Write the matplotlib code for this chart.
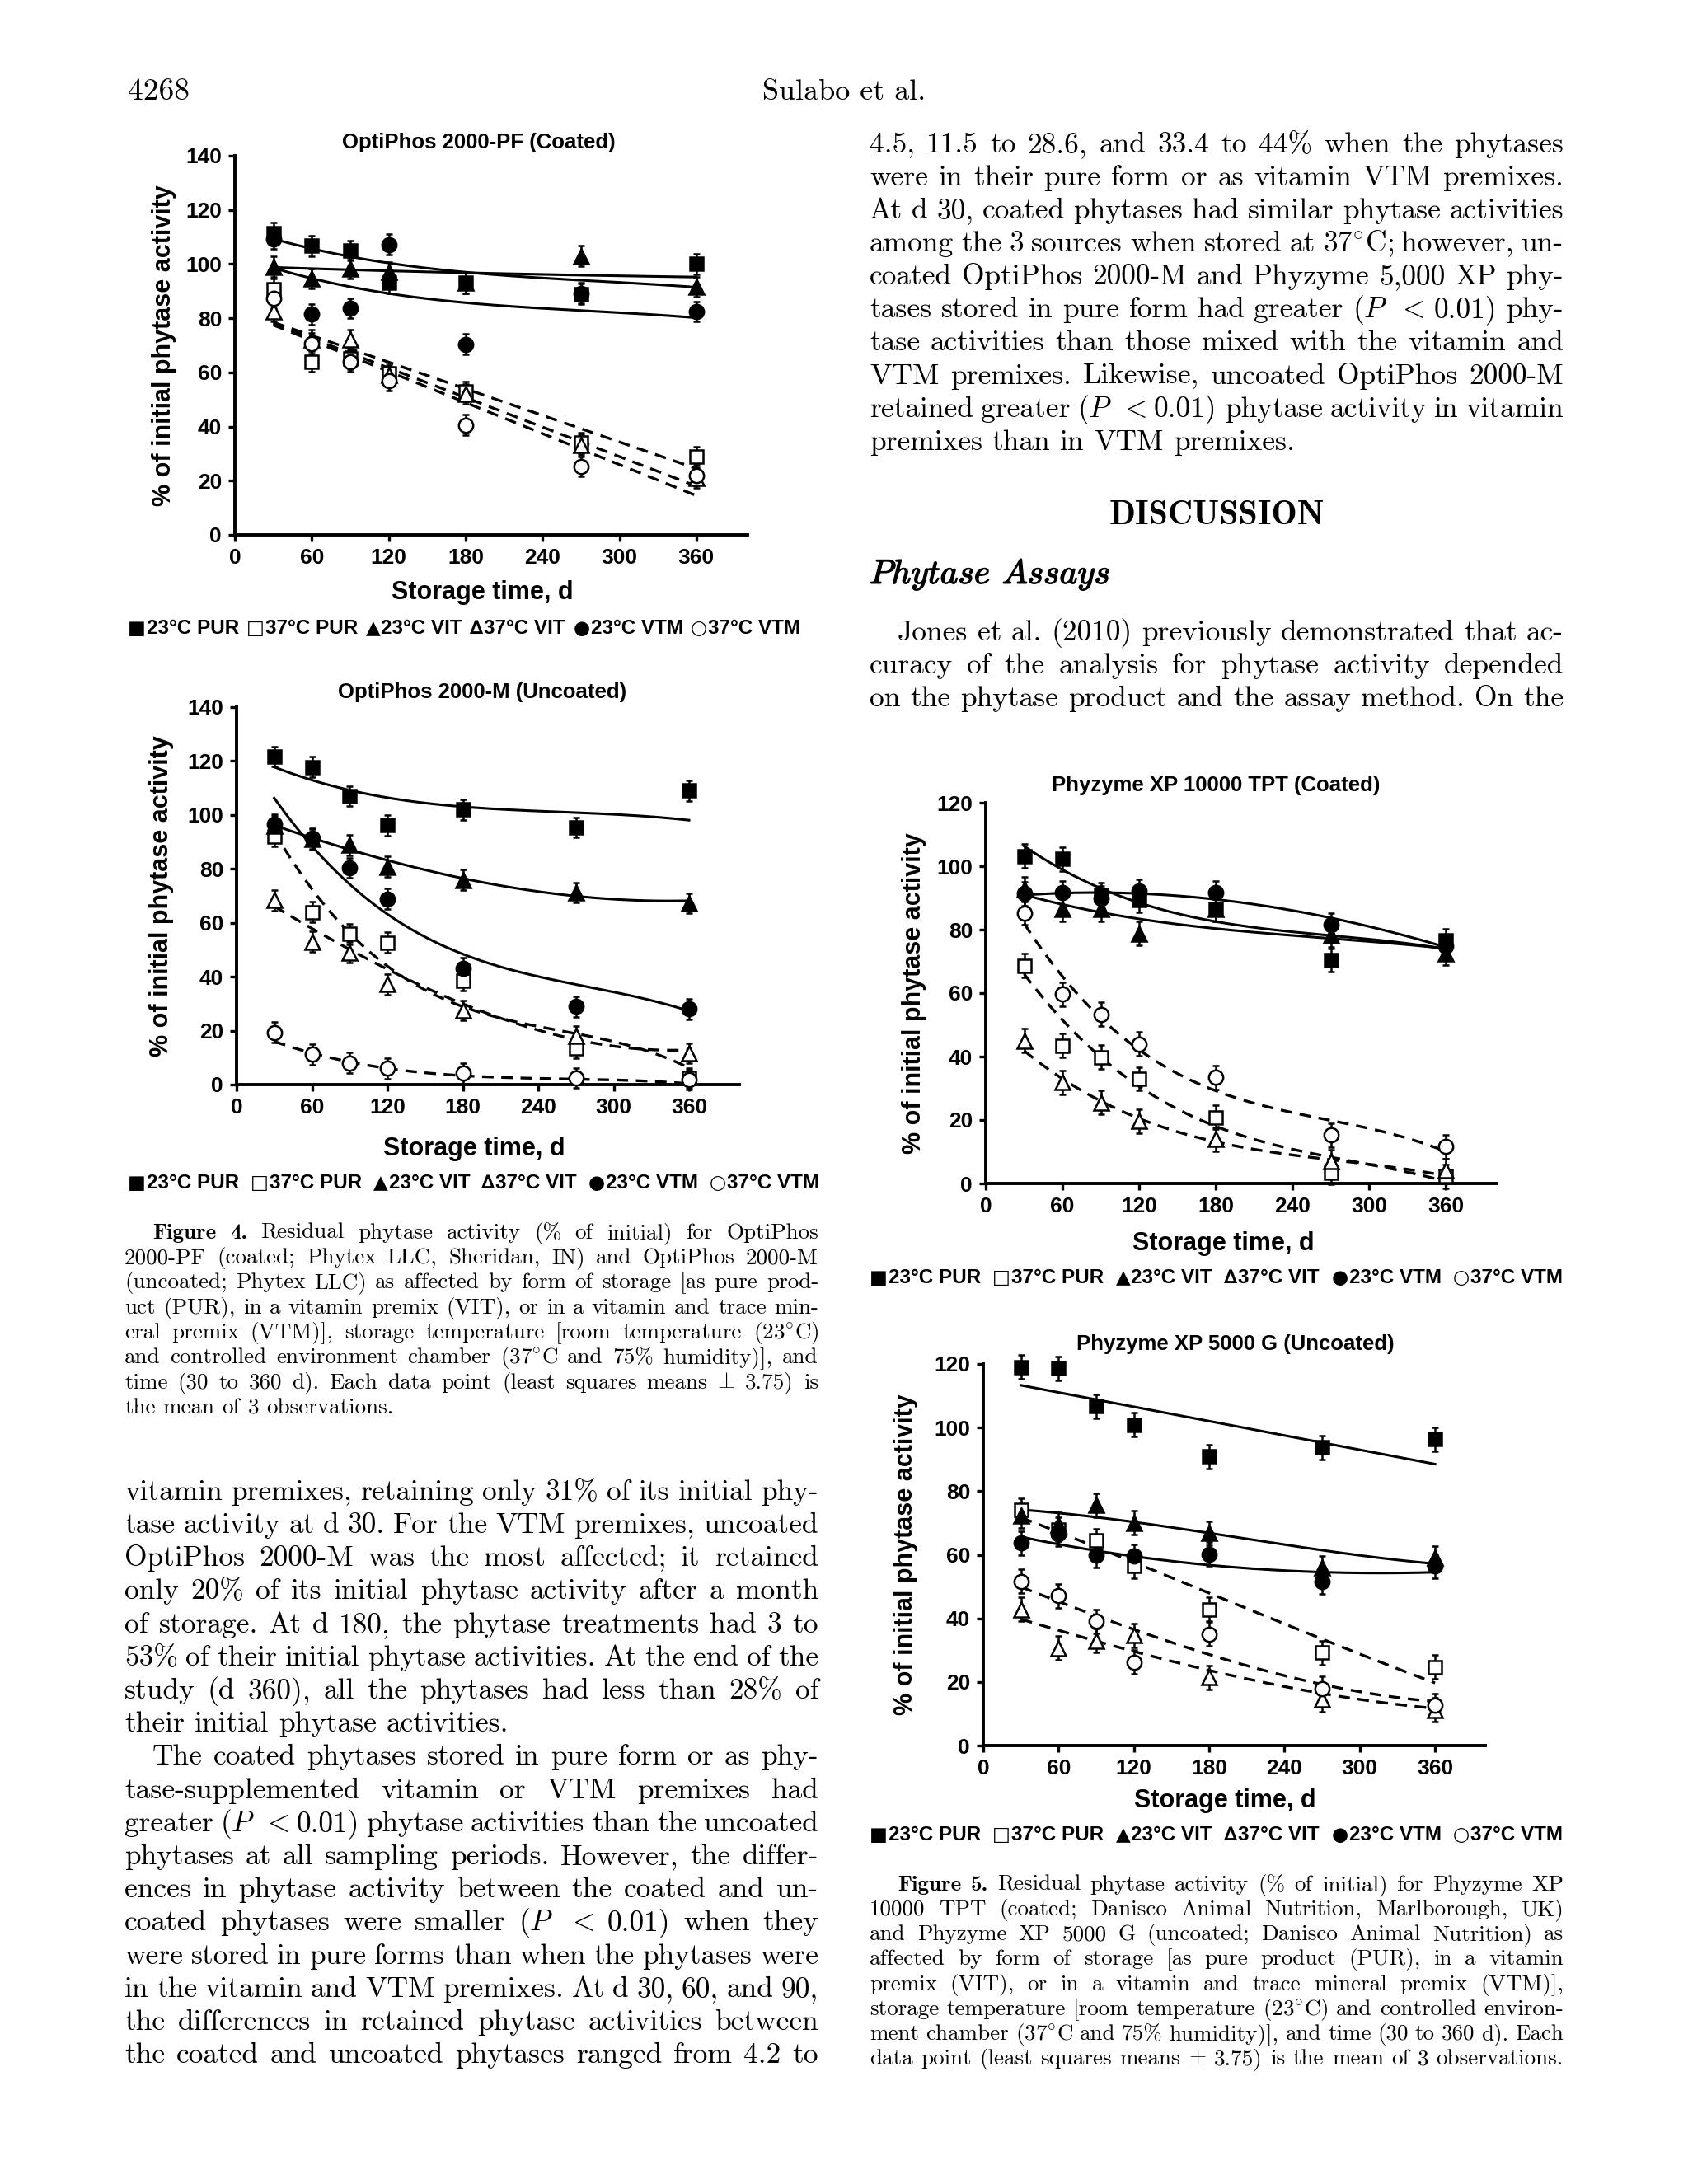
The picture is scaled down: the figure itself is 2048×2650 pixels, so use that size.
import numpy as np
import matplotlib
matplotlib.use('Agg')
import matplotlib.pyplot as plt
import matplotlib.patheffects as pe

plt.rcParams['font.family'] = ['Liberation Sans', 'DejaVu Sans']
plt.rcParams['mathtext.fontset'] = 'cm'

# ---------------- data ----------------
days = [30, 60, 90, 120, 180, 270, 360]
lin_days = [30, 360]
sem = 3.75
legend_symbols = [u"\u25A0", u"\u25A1", u"\u25B2", u"\u2206", u"\u25CF", u"\u25CB"]
legend_labels = [u"23\u00B0C PUR", u"37\u00B0C PUR", u"23\u00B0C VIT", u"37\u00B0C VIT",
                 u"23\u00B0C VTM", u"37\u00B0C VTM"]

# OptiPhos 2000-PF (Coated)
pf_pur23 = [111.5, 106.7, 105.0, 93.0, 93.0, 89.0, 100.0]
pf_pur37 = [90.8, 64.0, 65.0, 59.8, 53.0, 34.0, 28.8]
pf_vit23 = [99.0, 94.6, 98.4, 97.0, 93.0, 103.0, 91.6]
pf_vit37 = [82.5, 72.0, 72.0, 59.0, 52.0, 33.3, 21.0]
pf_vtm23 = [109.4, 81.5, 83.7, 107.2, 70.4, 89.3, 82.5]
pf_vtm37 = [87.5, 70.7, 64.0, 57.0, 40.6, 25.3, 22.0]
# fitted curves, read at the sampling days
pf_fit_pur23 = [109.5, 105.5, 102.5, 100.5, 97.3, 93.8, 91.5]
pf_fit_vit23 = [98.8, 98.3, 97.9, 97.5, 96.8, 95.9, 95.2]
pf_fit_vtm23 = [98.8, 94.4, 91.5, 89.3, 85.9, 82.7, 80.2]
pf_fit_pur37 = [78.5, 24.5]
pf_fit_vit37 = [78.0, 18.0]
pf_fit_vtm37 = [77.5, 14.5]

# OptiPhos 2000-M (Uncoated)
m_pur23 = [121.7, 117.8, 107.0, 96.2, 102.0, 95.4, 109.0]
m_pur37 = [92.0, 64.0, 55.8, 52.7, 38.6, 13.5, 2.5]
m_vit23 = [96.0, 91.0, 88.8, 80.8, 75.9, 71.2, 67.3]
m_vit37 = [68.4, 53.0, 49.0, 37.2, 27.5, 18.0, 11.6]
m_vtm23 = [96.5, 91.3, 80.4, 68.9, 43.2, 28.9, 28.0]
m_vtm37 = [19.4, 11.2, 8.1, 6.0, 4.2, 2.5, 1.8]
m_fit_pur23 = [118.2, 112.6, 108.6, 106.5, 103.9, 100.3, 98.2]
m_fit_vit23 = [95.7, 92.1, 87.5, 82.9, 76.0, 70.3, 68.1]
m_fit_vtm23 = [107.5, 86.5, 74.0, 64.0, 49.3, 36.3, 27.5]
m_fit_pur37 = [95.7, 70.1, 54.8, 44.5, 31.7, 16.9, 6.7]
m_fit_vit37 = [66.0, 57.8, 50.7, 42.5, 29.7, 16.9, 12.8]
m_fit_vtm37 = [16.4, 11.3, 7.9, 6.1, 4.1, 1.5, 0.5]

# Phyzyme XP 10000 TPT (Coated)
t_pur23 = [103.2, 102.3, 91.0, 89.3, 86.4, 70.4, 76.5]
t_pur37 = [68.6, 43.5, 39.8, 33.0, 20.9, 3.5, 2.3]
t_vit23 = [92.8, 86.4, 86.4, 78.8, 86.4, 78.3, 72.5]
t_vit37 = [45.0, 31.9, 25.5, 19.7, 13.9, 7.0, 4.1]
t_vtm23 = [91.4, 91.6, 89.9, 92.2, 91.6, 81.5, 74.8]
t_vtm37 = [85.2, 59.7, 53.3, 44.0, 33.4, 15.3, 11.6]
t_fit_pur23 = [106.8, 98.5, 92.3, 88.8, 83.3, 77.6, 74.0]
t_fit_vit23 = [91.0, 88.0, 85.4, 83.2, 80.6, 77.1, 74.1]
t_fit_vtm23 = [91.0, 91.4, 91.6, 91.4, 89.7, 83.6, 74.5]
t_fit_pur37 = [67.2, 49.8, 39.4, 31.2, 19.1, 7.4, 0.9]
t_fit_vit37 = [42.5, 32.1, 25.6, 20.8, 13.9, 6.9, 2.6]
t_fit_vtm37 = [83.6, 62.8, 51.6, 42.9, 30.8, 18.6, 10.4]

# Phyzyme XP 5000 G (Uncoated)
g_pur23 = [119.0, 118.6, 106.7, 100.9, 90.9, 93.8, 96.4]
g_pur37 = [74.0, 68.0, 64.5, 56.4, 42.8, 29.2, 24.7]
g_vit23 = [72.3, 69.5, 75.6, 70.0, 66.8, 55.9, 59.0]
g_vit37 = [42.8, 30.7, 33.0, 34.7, 21.4, 14.5, 11.2]
g_vtm23 = [63.7, 66.5, 59.8, 59.6, 60.2, 51.5, 56.4]
g_vtm37 = [51.7, 47.1, 39.1, 26.3, 35.0, 17.9, 12.7]
g_fit_pur23 = [113.3, 88.5]
g_fit_vit23_days = [30, 120, 180, 270, 360]
g_fit_vit23 = [74.2, 70.1, 67.1, 61.3, 57.2]
g_fit_vtm23 = [65.5, 63.6, 61.2, 59.3, 56.9, 54.5, 54.5]
g_fit_pur37 = [71.5, 67.2, 62.8, 57.7, 47.3, 33.9, 19.6]
g_fit_vit37 = [39.7, 36.3, 33.0, 29.4, 23.7, 16.4, 11.7]
g_fit_vtm37 = [49.6, 45.7, 41.0, 36.2, 28.5, 19.4, 13.8]

# ---------------- page text ----------------
header_left = "4268"
header_mid = "Sulabo et al."

right_top = [
    "4.5, 11.5 to 28.6, and 33.4 to 44% when the phytases",
    "were in their pure form or as vitamin VTM premixes.",
    "At d 30, coated phytases had similar phytase activities",
    "among the 3 sources when stored at 37°C; however, un-",
    "coated OptiPhos 2000-M and Phyzyme 5,000 XP phy-",
    "tases stored in pure form had greater (P < 0.01) phy-",
    "tase activities than those mixed with the vitamin and",
    "VTM premixes. Likewise, uncoated OptiPhos 2000-M",
    "retained greater (P < 0.01) phytase activity in vitamin",
    "premixes than in VTM premixes.",
]
jones_lines = [
    "Jones et al. (2010) previously demonstrated that ac-",
    "curacy of the analysis for phytase activity depended",
    "on the phytase product and the assay method. On the",
]
left_body = [
    "vitamin premixes, retaining only 31% of its initial phy-",
    "tase activity at d 30. For the VTM premixes, uncoated",
    "OptiPhos 2000-M was the most affected; it retained",
    "only 20% of its initial phytase activity after a month",
    "of storage. At d 180, the phytase treatments had 3 to",
    "53% of their initial phytase activities. At the end of the",
    "study (d 360), all the phytases had less than 28% of",
    "their initial phytase activities.",
    "The coated phytases stored in pure form or as phy-",
    "tase-supplemented vitamin or VTM premixes had",
    "greater (P < 0.01) phytase activities than the uncoated",
    "phytases at all sampling periods. However, the differ-",
    "ences in phytase activity between the coated and un-",
    "coated phytases were smaller (P < 0.01) when they",
    "were stored in pure forms than when the phytases were",
    "in the vitamin and VTM premixes. At d 30, 60, and 90,",
    "the differences in retained phytase activities between",
    "the coated and uncoated phytases ranged from 4.2 to",
]
cap4 = [
    "Figure 4. Residual phytase activity (% of initial) for OptiPhos",
    "2000-PF (coated; Phytex LLC, Sheridan, IN) and OptiPhos 2000-M",
    "(uncoated; Phytex LLC) as affected by form of storage [as pure prod-",
    "uct (PUR), in a vitamin premix (VIT), or in a vitamin and trace min-",
    "eral premix (VTM)], storage temperature [room temperature (23°C)",
    "and controlled environment chamber (37°C and 75% humidity)], and",
    "time (30 to 360 d). Each data point (least squares means ± 3.75) is",
    "the mean of 3 observations.",
]
cap5 = [
    "Figure 5. Residual phytase activity (% of initial) for Phyzyme XP",
    "10000 TPT (coated; Danisco Animal Nutrition, Marlborough, UK)",
    "and Phyzyme XP 5000 G (uncoated; Danisco Animal Nutrition) as",
    "affected by form of storage [as pure product (PUR), in a vitamin",
    "premix (VIT), or in a vitamin and trace mineral premix (VTM)],",
    "storage temperature [room temperature (23°C) and controlled environ-",
    "ment chamber (37°C and 75% humidity)], and time (30 to 360 d). Each",
    "data point (least squares means ± 3.75) is the mean of 3 observations.",
]

# ---------------- figure ----------------
W, H = 2048, 2650
PT = 100 / 72.0
fig = plt.figure(figsize=(W / 100, H / 100), dpi=100)
renderer = fig.canvas.get_renderer()


def fx(x):
    return x / W


def fy(y):
    return 1 - y / H


def tex(w):
    w = w.replace('°', r'$^{\circ}$').replace('±', r'$\pm$').replace('<', '$<$')
    if w == '(P':
        w = '($P$'
    return w


def width(t):
    return t.get_window_extent(renderer).width


def put_line(text, x0, x1, yc, size, justify=True, indent=0, fam='cmr10', nbold=0, effect=None):
    words = text.split()
    objs = []
    for i, w in enumerate(words):
        t = fig.text(0, 0, tex(w), fontsize=size, family='cmb10' if i < nbold else fam,
                     va='baseline', ha='left')
        if effect:
            t.set_path_effects(effect)
        objs.append(t)
    widths = [width(t) for t in objs]
    x = x0 + indent
    avail = x1 - x
    min_gap = 0.24 * size * PT
    need = sum(widths) + (len(words) - 1) * min_gap
    if need > avail:
        # line too long for the column: shrink it slightly
        k = avail / need
        for t in objs:
            t.set_fontsize(size * k)
        widths = [width(t) for t in objs]
    if justify and len(words) > 1:
        gap = (avail - sum(widths)) / (len(words) - 1)
    else:
        gap = 0.333 * size * PT
    base = yc + 0.25 * size * PT
    for t, w in zip(objs, widths):
        t.set_position((fx(x), fy(base)))
        x += w + gap


def put_block(lines, x0, x1, y0, step, size, ragged=(), indents=(), nbold=0):
    for i, ln in enumerate(lines):
        put_line(ln, x0, x1, y0 + i * step, size, justify=i not in ragged,
                 indent=34 if i in indents else 0, nbold=nbold if i == 0 else 0)


def fit_width(t, target):
    t.set_fontsize(t.get_fontsize() * target / width(t))


def put_legend(x0, x1, yc, size=17.5):
    pieces = []
    for sym, lab in zip(legend_symbols, legend_labels):
        s = fig.text(0, 0, sym, family='DejaVu Sans', fontweight='bold', fontsize=size * 0.95,
                     va='baseline', ha='left')
        l = fig.text(0, 0, lab, fontweight='bold', fontsize=size, va='baseline', ha='left')
        pieces.append((s, l))
    total = sum(width(s) + width(l) + 1 for s, l in pieces)
    gap = (x1 - x0 - total) / (len(pieces) - 1)
    x = x0
    base = yc + 0.36 * size * PT
    for s, l in pieces:
        s.set_position((fx(x), fy(base)))
        x += width(s) + 1
        l.set_position((fx(x), fy(base)))
        x += width(l) + gap


marker_styles = [('s', 'k', 11.5), ('s', 'w', 11.5), ('^', 'k', 13), ('^', 'w', 13),
                 ('o', 'k', 12.5), ('o', 'w', 12.5)]


def draw_chart(box, ymax, title, title_xy, ylab_x, xlab_xy, leg_y, leg_x, vals, fits):
    x0, x1, yb, yt = box
    ax = fig.add_axes([fx(x0), fy(yb), (x1 - x0) / W, (yb - yt) / H])
    ax.set_xlim(0, 400)
    ax.set_ylim(0, ymax)
    ax.set_xticks(np.arange(0, 361, 60))
    ax.set_yticks(np.arange(0, ymax + 1, 20))
    for s in ['top', 'right']:
        ax.spines[s].set_visible(False)
    for s in ['left', 'bottom']:
        ax.spines[s].set_linewidth(2.8)
    ax.tick_params(direction='out', length=5.5, width=2.4, labelsize=19, pad=6)
    for lab in ax.get_xticklabels() + ax.get_yticklabels():
        lab.set_fontweight('bold')
    for xs, ys, dashed in fits:
        deg = min(3, len(xs) - 1)
        c = np.polyfit(xs, ys, deg)
        xx = np.linspace(xs[0], xs[-1], 200)
        ax.plot(xx, np.polyval(c, xx), color='k', lw=2.4 if dashed else 2.2,
                ls=(0, (4.2, 2.8)) if dashed else '-', zorder=2, clip_on=False)
    for v, (m, fc, ms) in zip(vals, marker_styles):
        ax.errorbar(days, v, yerr=sem, fmt='none', ecolor='k', elinewidth=1.8,
                    capsize=3.2, capthick=1.8, zorder=3, clip_on=False)
        ax.plot(days, v, ls='none', marker=m, ms=ms, mfc=fc, mec='k', mew=1.8,
                zorder=4, clip_on=False)
    fig.text(fx(title_xy[0]), fy(title_xy[1]), title, ha='center', va='center',
             fontsize=18.5, fontweight='bold')
    fig.text(fx(ylab_x), fy((yb + yt) / 2), '% of initial phytase activity', rotation=90,
             ha='center', va='center', fontsize=22, fontweight='bold')
    fig.text(fx(xlab_xy[0]), fy(xlab_xy[1]), 'Storage time, d', ha='center', va='center',
             fontsize=22, fontweight='bold')
    put_legend(leg_x[0], leg_x[1], leg_y)


draw_chart((285, 907, 649, 189), 140, 'OptiPhos 2000-PF (Coated)', (581, 173), 199,
           (585, 719), 760, (155, 971),
           [pf_pur23, pf_pur37, pf_vit23, pf_vit37, pf_vtm23, pf_vtm37],
           [(days, pf_fit_pur23, False), (days, pf_fit_vit23, False), (days, pf_fit_vtm23, False),
            (lin_days, pf_fit_pur37, True), (lin_days, pf_fit_vit37, True),
            (lin_days, pf_fit_vtm37, True)])

draw_chart((287, 897, 1316, 858), 140, 'OptiPhos 2000-M (Uncoated)', (585, 840), 196,
           (575, 1394), 1433, (155, 994),
           [m_pur23, m_pur37, m_vit23, m_vit37, m_vtm23, m_vtm37],
           [(days, m_fit_pur23, False), (days, m_fit_vit23, False), (days, m_fit_vtm23, False),
            (days, m_fit_pur37, True), (days, m_fit_vit37, True), (days, m_fit_vtm37, True)])

draw_chart((1196, 1816, 1436, 974), 120, 'Phyzyme XP 10000 TPT (Coated)', (1475, 953), 1109,
           (1484, 1509), 1548, (1055, 1896),
           [t_pur23, t_pur37, t_vit23, t_vit37, t_vtm23, t_vtm37],
           [(days, t_fit_pur23, False), (days, t_fit_vit23, False), (days, t_fit_vtm23, False),
            (days, t_fit_pur37, True), (days, t_fit_vit37, True), (days, t_fit_vtm37, True)])

draw_chart((1193, 1802, 2118, 1655), 120, 'Phyzyme XP 5000 G (Uncoated)', (1499, 1631), 1099,
           (1486, 2185), 2224, (1055, 1896),
           [g_pur23, g_pur37, g_vit23, g_vit37, g_vtm23, g_vtm37],
           [(lin_days, g_fit_pur23, False), (g_fit_vit23_days, g_fit_vit23, False),
            (days, g_fit_vtm23, False), (days, g_fit_pur37, True), (days, g_fit_vit37, True),
            (days, g_fit_vtm37, True)])

# header
fig.text(fx(155), fy(112 + 9), header_left, family='cmr10', fontsize=27, va='baseline')
fig.text(fx(1024), fy(112 + 9), header_mid, family='cmr10', fontsize=26, va='baseline',
         ha='center')

# columns
BODY = 25.5
CAP = 19.5
put_block(right_top, 1055, 1897, 176, 40.1, BODY, ragged=(9,))
t = fig.text(fx(1476), fy(625), 'DISCUSSION', family='cmb10', fontsize=26, ha='center',
             va='center')
fit_width(t, 261)
put_line('Phytase Assays', 1055, 1342, 697, 31, justify=False, fam='cmmi10',
         effect=[pe.withStroke(linewidth=1.0, foreground='black')])
put_block(jones_lines, 1055, 1897, 768, 40.3, BODY, indents=(0,))
put_block(left_body, 151, 993, 1811, 40.2, BODY, ragged=(7,), indents=(8,))
put_block(cap4, 151, 993, 1496, 30.3, CAP, ragged=(7,), indents=(0,), nbold=2)
put_block(cap5, 1055, 1897, 2287, 30.2, CAP, indents=(0,), nbold=2)

fig.savefig('out.png', dpi=100, facecolor='white')
